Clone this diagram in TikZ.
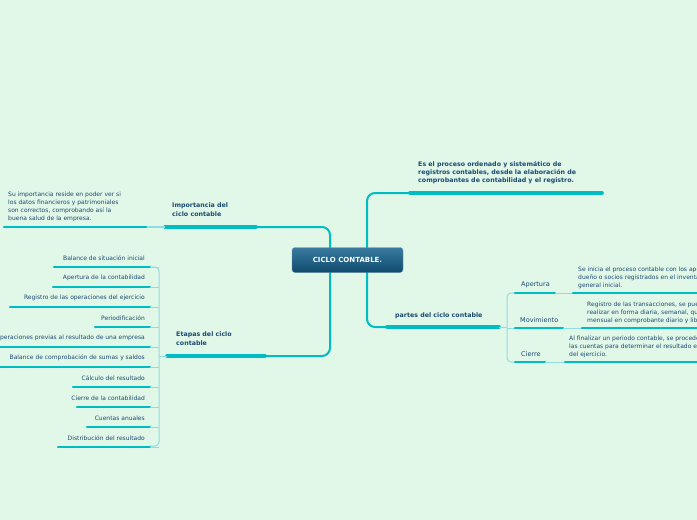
\documentclass[tikz,border=0pt]{standalone}
\usepackage{fontspec}
\setmainfont{DejaVu Sans}
\begin{document}
\begin{tikzpicture}[x=1pt,y=-1pt,
 txt/.style={text=tx,font=\fontsize{6}{8}\selectfont,inner sep=0pt},
 btxt/.style={text=tx,font=\fontsize{6.3}{8.3}\selectfont\bfseries,inner sep=0pt,align=left},
 thick1/.style={draw=teal1,line width=3.6pt,line cap=round},
 thin1/.style={draw=teal1,line width=2.2pt,line cap=round},
 con/.style={draw=teal1,line width=2pt,rounded corners=8pt},
 lcon/.style={draw=teal2,line width=1pt,rounded corners=4pt}]
\definecolor{bg}{HTML}{E1F7E8}
\definecolor{teal1}{HTML}{00BDC4}
\definecolor{teal2}{HTML}{8FDDE0}
\definecolor{tx}{HTML}{1B4A72}
\definecolor{c1}{HTML}{3A7BA0}
\definecolor{c2}{HTML}{0E4A6E}
\useasboundingbox (0,0) rectangle (697,520);
\clip (0,0) rectangle (697,520);
\fill[bg] (0,0) rectangle (697,520);
% connectors from centre
\draw[con] (367,260) -- (367,193) -- (410,193);
\draw[con] (367,260) -- (367,327) -- (387,327);
\draw[con] (330,260) -- (330,227) -- (256,227);
\draw[con] (330,260) -- (330,356) -- (265,356);
% centre
\node[draw=c2!60,rounded corners=3pt,top color=c1,bottom color=c2,minimum width=111pt,minimum height=25pt,text=white,font=\fontsize{7}{8}\selectfont\bfseries] (c) at (347.5,260) {CICLO CONTABLE.};
% top right
\node[btxt,anchor=north west] (def) at (418,161) {Es el proceso ordenado y sistemático de\\registros contables, desde la elaboración de\\comprobantes de contabilidad y el registro.};
\draw[thick1] (410,193) -- (602,193);
% importancia
\node[btxt,anchor=north west] (imp) at (172,203) {Importancia del\\ciclo contable};
\draw[thick1] (165,227) -- (256,227);
\draw[draw=teal2,line width=1.2pt] (146,227) -- (165,227);
\node[txt,anchor=north west,align=left] (impd) at (8,192) {Su importancia reside en poder ver si\\los datos financieros y patrimoniales\\son correctos, comprobando así la\\buena salud de la empresa.};
\draw[thin1] (4,227) -- (146,227);
% etapas
\node[btxt,anchor=north west] (et) at (176,332) {Etapas del ciclo\\contable};
\draw[thick1] (167,356) -- (265,356);
\draw[lcon] (150,267) -- (159,267) -- (159,446) -- (150,446);
\draw[draw=teal2,line width=1pt] (159,356) -- (167,356);
\foreach \t/\y/\l in {Balance de situación inicial/258/54,Apertura de la contabilidad/278/53,Registro de las operaciones del ejercicio/298/10,Periodificación/318/95,Operaciones previas al resultado de una empresa/338/0,Balance de comprobación de sumas y saldos/358/0,Cálculo del resultado/378/73,Cierre de la contabilidad/398/77,Cuentas anuales/418/87,Distribución del resultado/438/58}{
 \node[txt,anchor=east] at (145,\y) {\t};
 \draw[thin1] (\l,\y+9) -- (150,\y+9);
 \draw[draw=teal2,line width=1pt] (150,\y+9) -- (159,\y+9);
}
% partes
\node[btxt,anchor=west] (pa) at (395,316) {partes del ciclo contable};
\draw[thick1] (387,327) -- (499,327);
\draw[draw=teal2,line width=1pt] (499,327) -- (507,327);
\draw[lcon] (515,293) -- (507,293) -- (507,362) -- (515,362);
\draw[draw=teal2,line width=1pt] (507,328) -- (515,328);
\node[txt,anchor=west,font=\fontsize{6.5}{8}\selectfont] at (521,285) {Apertura};
\draw[thin1] (515,293) -- (555,293);
\draw[draw=teal2,line width=1pt] (555,293) -- (573,293);
\draw[thin1] (573,293) -- (700,293);
\node[txt,anchor=north west,align=left] at (578,267) {Se inicia el proceso contable con los aportes del\\dueño o socios registrados en el inventario\\general inicial.};
\node[txt,anchor=west,font=\fontsize{6.5}{8}\selectfont] at (520,320) {Movimiento};
\draw[thin1] (515,328) -- (563,328);
\draw[draw=teal2,line width=1pt] (563,328) -- (582,328);
\draw[thin1] (582,328) -- (700,328);
\node[txt,anchor=north west,align=left] at (587,302) {Registro de las transacciones, se puede\\realizar en forma diaria, semanal, quincenal o\\mensual en comprobante diario y libro diario.};
\node[txt,anchor=west,font=\fontsize{6.5}{8}\selectfont] at (521,354) {Cierre};
\draw[thin1] (515,362) -- (545,362);
\draw[draw=teal2,line width=1pt] (545,362) -- (565,362);
\draw[thin1] (565,362) -- (700,362);
\node[txt,anchor=north west,align=left] at (569,336) {Al finalizar un periodo contable, se procede a cerrar\\las cuentas para determinar el resultado económico\\del ejercicio.};
\end{tikzpicture}
\end{document}
